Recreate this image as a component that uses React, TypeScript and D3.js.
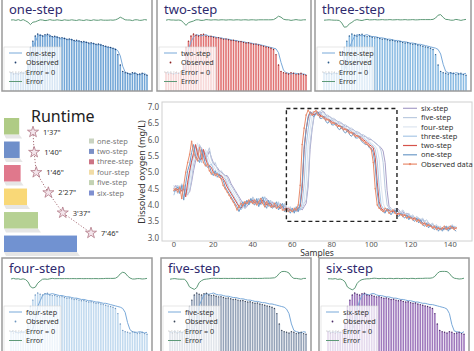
import React from 'react';
import * as d3 from 'd3';

const W = 474, H = 351;
const FONT = "'Noto Sans', 'DejaVu Sans', sans-serif";

const steps = ['one-step', 'two-step', 'three-step', 'four-step', 'five-step', 'six-step'];
const runtimeSeconds = [97, 100, 106, 147, 217, 466];
const runtimeLabels = ["1'37\"", "1'40\"", "1'46\"", "2'27\"", "3'37\"", "7'46\""];
const runtimeColors = ['#afcb85', '#6f8fca', '#e0788c', '#f9d877', '#b6d193', '#7192d1'];
const runtimeLegendColors = ['#c9d3c0', '#7b90c6', '#cc7485', '#f1dca6', '#c3d2b3', '#7f8fd0'];

const yTicks = [3.0, 3.5, 4.0, 4.5, 5.0, 5.5, 6.0, 6.5, 7.0];
const xTicks = [0, 20, 40, 60, 80, 100, 120, 140];
const zoomStart = 57, zoomEnd = 113, zoomLow = 3.5, zoomHigh = 6.95;

const observed = [4.45,4.50,4.40,4.55,4.20,4.60,5.00,5.30,5.55,5.95,5.60,5.45,5.35,5.75,5.55,5.30,5.20,5.25,5.05,4.95,
5.00,4.90,4.95,4.85,4.80,4.60,4.50,4.40,4.30,4.20,4.10,4.00,3.85,3.95,4.05,4.00,4.10,4.05,4.15,4.10,
4.05,4.15,4.00,4.10,4.20,4.05,3.95,4.10,4.00,3.95,3.95,4.05,3.90,3.95,4.00,3.85,3.85,3.90,3.80,3.85,
3.80,3.90,3.85,4.00,4.60,5.85,6.35,6.75,6.90,6.80,6.75,6.85,6.88,6.75,6.70,6.72,6.65,6.60,6.62,6.55,
6.50,6.52,6.45,6.40,6.42,6.35,6.30,6.32,6.25,6.20,6.22,6.15,6.10,6.12,6.05,6.00,5.95,5.90,5.85,5.80,
5.70,5.30,4.50,4.00,3.90,3.85,3.80,3.90,3.85,3.75,3.80,3.85,3.75,3.70,3.75,3.70,3.65,3.70,3.60,3.65,
3.60,3.55,3.60,3.50,3.55,3.45,3.40,3.45,3.35,3.40,3.35,3.30,3.35,3.25,3.30,3.25,3.30,3.35,3.25,3.30,
3.35,3.30,3.25,3.30];

const pred1 = [4.40,4.48,4.55,4.35,4.60,4.15,4.65,5.05,5.25,5.60,5.85,5.50,5.40,5.30,5.70,5.50,5.25,5.15,5.20,5.00,
4.90,5.05,4.85,4.95,4.80,4.75,4.55,4.45,4.35,4.25,4.15,4.05,3.95,3.80,3.95,4.10,3.95,4.15,4.00,4.20,
4.05,4.00,4.20,3.95,4.15,4.25,4.00,3.90,4.15,3.95,3.90,4.00,4.10,3.85,3.95,4.05,3.80,3.90,3.85,3.75,
3.90,3.75,3.95,3.80,4.05,4.70,5.80,6.30,6.70,6.85,6.75,6.70,6.80,6.85,6.65,6.65,6.70,6.55,6.50,6.60,
6.45,6.45,6.50,6.35,6.30,6.40,6.25,6.20,6.30,6.15,6.10,6.20,6.05,6.05,6.10,5.95,5.90,5.85,5.85,5.75,
5.75,5.60,5.20,4.40,3.95,3.85,3.80,3.75,3.90,3.80,3.70,3.80,3.85,3.70,3.65,3.75,3.65,3.60,3.70,3.55,
3.65,3.55,3.50,3.60,3.45,3.55,3.40,3.35,3.45,3.30,3.40,3.30,3.25,3.35,3.20,3.30,3.20,3.30,3.35,3.20,
3.30,3.35,3.25,3.20];

const pred2 = [4.50,4.45,4.48,4.52,4.42,4.50,4.25,4.70,5.05,5.35,5.60,5.85,5.55,5.40,5.40,5.70,5.45,5.25,5.20,5.15,
5.00,4.95,4.95,4.90,4.90,4.80,4.70,4.55,4.45,4.35,4.25,4.15,4.05,3.95,3.90,4.00,4.05,4.05,4.10,4.10,
4.15,4.05,4.10,4.05,4.05,4.15,4.10,4.00,4.05,4.05,3.95,3.95,4.00,3.95,3.90,3.95,3.90,3.85,3.90,3.85,
3.80,3.85,3.85,3.90,3.95,4.50,5.70,6.30,6.65,6.85,6.80,6.75,6.80,6.85,6.75,6.70,6.70,6.65,6.60,6.60,
6.55,6.50,6.50,6.45,6.40,6.40,6.35,6.30,6.30,6.25,6.20,6.20,6.15,6.10,6.10,6.05,6.00,5.95,5.90,5.85,
5.80,5.75,5.45,4.70,4.10,3.90,3.85,3.80,3.85,3.85,3.80,3.80,3.80,3.75,3.72,3.72,3.70,3.68,3.68,3.62,
3.62,3.60,3.57,3.57,3.52,3.52,3.45,3.42,3.42,3.37,3.37,3.33,3.32,3.30,3.28,3.28,3.27,3.28,3.30,3.28,
3.28,3.32,3.30,3.27];

const pred3 = [4.30,4.50,4.60,4.45,4.50,4.55,4.30,4.50,4.95,5.30,5.50,5.80,5.70,5.45,5.30,5.65,5.60,5.35,5.20,5.25,
5.10,4.95,5.00,4.95,4.90,4.85,4.80,4.65,4.50,4.40,4.30,4.20,4.10,3.95,3.85,3.95,4.10,4.05,4.15,4.10,
4.20,4.10,4.05,4.20,4.00,4.10,4.25,4.05,3.95,4.10,4.00,3.95,3.90,4.05,3.90,3.95,4.00,3.85,3.80,3.90,
3.80,3.85,3.80,3.90,3.85,4.05,4.65,5.80,6.30,6.70,6.85,6.80,6.75,6.80,6.85,6.75,6.70,6.70,6.65,6.60,
6.60,6.55,6.50,6.50,6.45,6.40,6.40,6.35,6.30,6.30,6.25,6.20,6.20,6.15,6.10,6.10,6.05,6.00,5.95,5.90,
5.85,5.80,5.70,5.35,4.55,4.00,3.90,3.85,3.80,3.90,3.85,3.75,3.80,3.85,3.75,3.70,3.75,3.70,3.65,3.70,
3.60,3.65,3.60,3.55,3.60,3.50,3.55,3.45,3.40,3.45,3.35,3.40,3.35,3.30,3.35,3.25,3.30,3.25,3.30,3.35,
3.25,3.30,3.35,3.30];

const pred4 = [4.55,4.40,4.50,4.60,4.45,4.55,4.40,4.35,4.70,5.10,5.40,5.60,5.90,5.65,5.50,5.40,5.70,5.55,5.35,5.25,
5.20,5.10,5.00,4.95,4.95,4.90,4.85,4.75,4.60,4.50,4.40,4.30,4.20,4.10,3.95,3.90,4.00,4.10,4.05,4.20,
4.15,4.10,4.15,4.05,4.10,4.20,4.10,4.00,4.10,4.05,4.00,4.00,4.05,3.95,3.95,4.00,3.90,3.90,3.95,3.85,
3.85,3.80,3.90,3.85,3.90,3.95,4.10,4.70,5.85,6.30,6.70,6.85,6.80,6.80,6.85,6.80,6.75,6.70,6.70,6.65,
6.60,6.60,6.55,6.50,6.50,6.45,6.40,6.40,6.35,6.30,6.30,6.25,6.20,6.20,6.15,6.10,6.10,6.05,6.00,5.95,
5.90,5.85,5.80,5.70,5.40,4.60,4.05,3.90,3.85,3.85,3.90,3.85,3.80,3.85,3.80,3.75,3.75,3.70,3.72,3.68,
3.65,3.65,3.60,3.62,3.55,3.58,3.50,3.48,3.45,3.42,3.40,3.40,3.37,3.35,3.33,3.30,3.30,3.28,3.30,3.32,
3.30,3.28,3.32,3.34];

const pred5 = [4.60,4.45,4.35,4.50,4.65,4.50,4.45,4.30,4.45,4.80,5.25,5.45,5.65,5.85,5.70,5.45,5.35,5.60,5.75,5.40,
5.25,5.30,5.10,5.00,5.05,4.95,4.90,4.85,4.70,4.60,4.50,4.40,4.30,4.20,4.05,3.95,3.90,4.05,4.15,4.05,
4.25,4.15,4.05,4.20,4.00,4.15,4.25,4.10,3.95,4.15,4.00,3.95,3.95,4.10,3.90,3.95,4.05,3.85,3.85,3.95,
3.80,3.85,3.80,3.95,3.85,3.90,4.05,4.15,4.75,5.90,6.35,6.75,6.85,6.80,6.85,6.90,6.80,6.75,6.75,6.70,
6.65,6.65,6.60,6.55,6.55,6.50,6.45,6.45,6.40,6.35,6.35,6.30,6.25,6.25,6.20,6.15,6.15,6.10,6.05,6.05,
6.00,5.95,5.90,5.85,5.80,5.65,5.30,4.50,4.00,3.90,3.85,3.80,3.90,3.85,3.75,3.80,3.85,3.75,3.70,3.75,
3.65,3.70,3.60,3.65,3.60,3.55,3.60,3.50,3.55,3.45,3.40,3.45,3.35,3.40,3.30,3.35,3.25,3.30,3.35,3.25,
3.30,3.40,3.30,3.35];

const pred6 = [4.50,4.60,4.45,4.40,4.55,4.60,4.45,4.35,4.40,4.70,5.05,5.35,5.55,5.80,5.75,5.55,5.40,5.50,5.65,5.45,
5.30,5.20,5.15,5.05,5.00,4.95,4.90,4.90,4.80,4.65,4.55,4.45,4.35,4.25,4.15,4.05,3.90,3.95,4.05,4.10,
4.10,4.15,4.10,4.05,4.15,4.05,4.15,4.20,4.05,3.95,4.10,4.00,3.95,3.95,4.05,3.90,3.95,3.95,3.85,3.85,
3.90,3.80,3.85,3.80,3.90,3.85,3.95,4.05,4.55,5.70,6.30,6.70,6.85,6.80,6.75,6.85,6.85,6.75,6.70,6.70,
6.65,6.60,6.60,6.55,6.50,6.50,6.45,6.40,6.40,6.35,6.30,6.30,6.25,6.20,6.20,6.15,6.10,6.10,6.05,6.00,
6.00,5.95,5.90,5.85,5.80,5.75,5.65,5.30,4.45,3.95,3.90,3.85,3.80,3.90,3.85,3.75,3.80,3.70,3.75,3.70,
3.65,3.65,3.60,3.62,3.58,3.55,3.55,3.50,3.45,3.45,3.40,3.40,3.35,3.35,3.30,3.30,3.28,3.25,3.28,3.30,
3.35,3.35,3.30,3.30];

const predictions = [pred1, pred2, pred3, pred4, pred5, pred6];
const mainColors = ['#6f9bc8', '#d6534a', '#a9c7e6', '#dde5f0', '#bccbe0', '#a79fc8'];
const obsColor = '#e88b6c';

const panelBarColors = ['#5b96d0', '#dc5a5a', '#78b0de', '#b7d3ec', '#8393ab', '#8e62b2'];
const panelDotColors = ['#1f3f6e', '#8a1f1f', '#2a5a8a', '#6d95bf', '#3b4658', '#4a2a66'];

type Box = { x: number; y: number; w: number; h: number };
const panelBoxes: Box[] = [
  { x: 2, y: -1, w: 150, h: 92 },
  { x: 157, y: -1, w: 154, h: 92 },
  { x: 315, y: -1, w: 156, h: 92 },
  { x: 2, y: 258, w: 150, h: 96 },
  { x: 161, y: 258, w: 150, h: 96 },
  { x: 319, y: 258, w: 150, h: 96 },
];

function Panel({ k }: { k: number }) {
  const box = panelBoxes[k];
  const obs = observed.slice(zoomStart, zoomEnd + 1);
  const pr = predictions[k].slice(zoomStart, zoomEnd + 1);
  const err = pr.map((p, i) => p - obs[i]);
  const bx = d3.scaleLinear().domain([0, obs.length - 1]).range([9, box.w - 5]);
  const by = d3.scaleLinear().domain([2.4, 6.9]).range([93, 35]);
  const ey = d3.scaleLinear().domain([-1, 1]).range([25, 17]);
  const predLine = d3.line<number>().x((_, i) => bx(i)).y(d => by(d));
  const errLine = d3.line<number>().x((_, i) => bx(i)).y(d => ey(d));
  const clipId = `clip-panel-${k}`;
  const rows = [54, 63.5, 73, 82.5];
  return (
    <g transform={`translate(${box.x},${box.y})`}>
      <defs>
        <clipPath id={clipId}><rect x={0} y={0} width={box.w} height={box.h} /></clipPath>
      </defs>
      <rect x={0} y={0} width={box.w} height={box.h} fill="#fff" />
      <g clipPath={`url(#${clipId})`}>
        {obs.map((v, i) => (
          <rect key={i} x={bx(i) - 0.8} y={by(v)} width={1.6} height={box.h - by(v)}
            fill={panelBarColors[k]} fillOpacity={0.85} />
        ))}
        <path d={predLine(pr) || ''} fill="none" stroke="#79a9d9" strokeWidth={1} />
        {obs.map((v, i) => (
          <circle key={i} cx={bx(i)} cy={by(v)} r={0.7} fill={panelDotColors[k]} />
        ))}
        <path d={errLine(err) || ''} fill="none" stroke="#5e9a78" strokeWidth={1} />
        <rect x={2} y={48} width={57} height={box.h} fill="#fff" fillOpacity={0.72} stroke="#d8d8d8" strokeWidth={0.6} />
        <line x1={7} x2={20} y1={rows[0]} y2={rows[0]} stroke="#79a9d9" strokeWidth={1} />
        <circle cx={13.5} cy={rows[1]} r={0.9} fill={panelDotColors[k]} />
        <line x1={7} x2={20} y1={rows[2]} y2={rows[2]} stroke="#c8c8c8" strokeWidth={0.8} strokeDasharray="1.5,1.5" />
        <line x1={7} x2={20} y1={rows[3]} y2={rows[3]} stroke="#5e9a78" strokeWidth={1} />
        {[steps[k], 'Observed', 'Error = 0', 'Error'].map((t, i) => (
          <text key={t} x={24} y={rows[i] + 2.5} fontSize={7.2} fill="#333" fontFamily={FONT}>{t}</text>
        ))}
      </g>
      <text x={7} y={15} fontSize={13} fill="#2e2a6e" fontFamily={FONT}>{steps[k]}</text>
      <rect x={0} y={0} width={box.w} height={box.h} fill="none" stroke="#9a9a9a" strokeWidth={1.5} />
    </g>
  );
}

function MainChart() {
  const x = d3.scaleLinear().domain([-6, 151]).range([162, 472]);
  const y = d3.scaleLinear().domain([2.9, 7.15]).range([241, 102]);
  const line = d3.line<number>().x((_, i) => x(i)).y(d => y(d));
  const order = [5, 4, 3, 2, 1, 0];
  const legendItems = [
    ...order.map(k => ({ name: steps[k], color: mainColors[k], dot: false })),
    { name: 'Observed data', color: obsColor, dot: true },
  ];
  return (
    <g>
      <rect x={162} y={102} width={310} height={139} fill="#fff" stroke="#d0d0d0" strokeWidth={1} />
      {order.map(k => (
        <path key={k} d={line(predictions[k]) || ''} fill="none" stroke={mainColors[k]} strokeWidth={1} />
      ))}
      <path d={line(observed) || ''} fill="none" stroke={obsColor} strokeWidth={1} />
      {observed.map((v, i) => <circle key={i} cx={x(i)} cy={y(v)} r={0.8} fill={obsColor} />)}
      <rect x={x(zoomStart)} y={y(zoomHigh)} width={x(zoomEnd) - x(zoomStart)} height={y(zoomLow) - y(zoomHigh)}
        fill="none" stroke="#222" strokeWidth={1.4} strokeDasharray="4,3" />
      {yTicks.map(t => (
        <text key={t} x={159} y={y(t) + 3} textAnchor="end" fontSize={8} fill="#555" fontFamily={FONT}>{t.toFixed(1)}</text>
      ))}
      {xTicks.map(t => (
        <text key={t} x={x(t)} y={246.5} textAnchor="middle" fontSize={7.5} fill="#555" fontFamily={FONT}>{t}</text>
      ))}
      <text x={317} y={256} textAnchor="middle" fontSize={8.5} fill="#333" fontFamily={FONT}>Samples</text>
      <text transform="translate(145,172) rotate(-90)" textAnchor="middle" fontSize={9} fill="#333" fontFamily={FONT}>Dissolved oxygen (mg/L)</text>
      {legendItems.map((it, i) => {
        const ly = 108.3 + i * 9.3;
        return (
          <g key={it.name}>
            <line x1={403} x2={417} y1={ly} y2={ly} stroke={it.color} strokeWidth={1.2} />
            {it.dot && <circle cx={410} cy={ly} r={1.2} fill={it.color} />}
            <text x={421} y={ly + 2.6} fontSize={7.5} fill="#333" fontFamily={FONT}>{it.name}</text>
          </g>
        );
      })}
    </g>
  );
}

function Runtime() {
  const barW = d3.scaleLinear().domain([0, 466]).range([0, 73]);
  const barY = d3.scaleBand<number>().domain(d3.range(6)).range([118, 252]).paddingInner(0.3).paddingOuter(0);
  const starX = d3.scaleLog().domain([97, 466]).range([33, 91]);
  const starY = d3.scalePoint<number>().domain(d3.range(6)).range([132, 233]);
  const legY = d3.scalePoint<number>().domain(d3.range(6)).range([141, 193]);
  const star = d3.symbol().type(d3.symbolStar).size(38)();
  const pts: [number, number][] = runtimeSeconds.map((s, i) => [starX(s), starY(i) as number]);
  return (
    <g>
      <text x={31} y={122} fontSize={16} fill="#222" fontFamily={FONT}>Runtime</text>
      {runtimeSeconds.map((s, i) => {
        const yy = barY(i) as number;
        const bw = barW(s);
        const bh = barY.bandwidth();
        return (
          <g key={i}>
            <polygon points={`${4},${yy + bh} ${4 + bw},${yy + bh} ${4 + bw + 3},${yy + bh + 4} ${6},${yy + bh + 4}`} fill="#e6e6e6" />
            <rect x={4} y={yy} width={bw} height={bh} fill={runtimeColors[i]} />
          </g>
        );
      })}
      <path d={d3.line()(pts) || ''} fill="none" stroke="#a0626c" strokeWidth={0.9} strokeDasharray="1.2,1.8" />
      {pts.map((p, i) => (
        <g key={i}>
          <path d={star || ''} transform={`translate(${p[0]},${p[1]})`} fill="#f4e6ec" stroke="#b07684" strokeWidth={0.8} />
          <text x={p[0] + 10} y={p[1] + 2.8} fontSize={7.5} fill="#333" fontFamily={FONT}>{runtimeLabels[i]}</text>
        </g>
      ))}
      {steps.map((s, i) => (
        <g key={s}>
          <rect x={89} y={(legY(i) as number) - 2.5} width={5} height={5} fill={runtimeLegendColors[i]} />
          <text x={97} y={(legY(i) as number) + 2.6} fontSize={7.5} fill="#777" fontFamily={FONT}>{s}</text>
        </g>
      ))}
    </g>
  );
}

export default function App() {
  return (
    <div style={{ position: 'absolute', left: 0, top: 0, width: W, height: H }}>
      <svg width={W} height={H} viewBox={`0 0 ${W} ${H}`} style={{ display: 'block' }}>
        <rect x={0} y={0} width={W} height={H} fill="#fff" />
        <Runtime />
        <MainChart />
        {panelBoxes.map((_, k) => <Panel key={k} k={k} />)}
      </svg>
    </div>
  );
}
